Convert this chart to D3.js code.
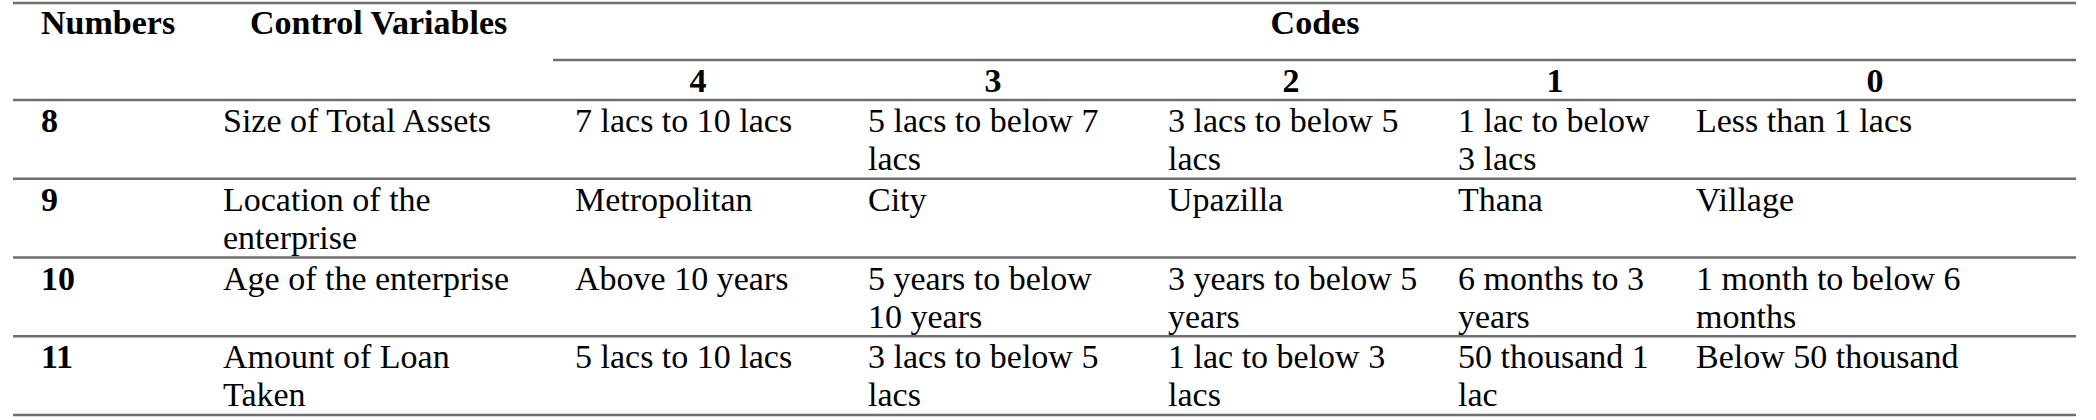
<!DOCTYPE html>
<html>
<head>
<meta charset="utf-8">
<script src="https://cdn.jsdelivr.net/npm/d3@7"></script>
<style>
  body { margin: 0; background: #fff; }
  text { font-family: "Liberation Serif", "Times New Roman", serif; font-size: 34px; fill: #000; }
  .b { font-weight: bold; }
</style>
</head>
<body>
<svg id="chart" width="2096" height="420"></svg>
<script>
// table content
var numbers = ["8", "9", "10", "11"];
var variables = [["Size of Total Assets"], ["Location of the", "enterprise"], ["Age of the enterprise"], ["Amount of Loan", "Taken"]];
var codes = ["4", "3", "2", "1", "0"];
var code4 = [["7 lacs to 10 lacs"], ["Metropolitan"], ["Above 10 years"], ["5 lacs to 10 lacs"]];
var code3 = [["5 lacs to below 7", "lacs"], ["City"], ["5 years to below", "10 years"], ["3 lacs to below 5", "lacs"]];
var code2 = [["3 lacs to below 5", "lacs"], ["Upazilla"], ["3 years to below 5", "years"], ["1 lac to below 3", "lacs"]];
var code1 = [["1 lac to below", "3 lacs"], ["Thana"], ["6 months to 3", "years"], ["50 thousand 1", "lac"]];
var code0 = [["Less than 1 lacs"], ["Village"], ["1 month to below 6", "months"], ["Below 50 thousand"]];

var svg = d3.select("#chart");
var left = 13, right = 2076;

// column left edges (text start) and header centres
var colX = [41, 223, 575, 868, 1168, 1458, 1696];
var codeCenter = d3.scaleOrdinal().domain(codes).range([698, 993, 1291, 1555, 1875]);

var y = d3.scaleBand().domain(numbers).range([100, 415]);

var line = function(x1, x2, yy) {
  svg.append("line").attr("x1", x1).attr("x2", x2).attr("y1", yy).attr("y2", yy)
    .attr("stroke", "#6e6e6e").attr("stroke-width", 2.5);
};

// rules
line(left, right, 3);
line(553, right, 60);
line(left, right, 100);
numbers.forEach(function(n) {
  line(left, right, y(n) + y.bandwidth());
});

// header
svg.append("text").attr("class", "b").attr("x", colX[0]).attr("y", 34).text("Numbers");
svg.append("text").attr("class", "b").attr("x", 250).attr("y", 34).text("Control Variables");
svg.append("text").attr("class", "b").attr("x", 1315).attr("y", 34).attr("text-anchor", "middle").text("Codes");
svg.selectAll(".code").data(codes).enter().append("text")
  .attr("class", "b code").attr("x", function(d) { return codeCenter(d); })
  .attr("y", 92).attr("text-anchor", "middle").text(function(d) { return d; });

// body
var columns = [numbers.map(function(n) { return [n]; }), variables, code4, code3, code2, code1, code0];
columns.forEach(function(col, c) {
  var g = svg.append("g");
  var cell = g.selectAll("text").data(col).enter().append("text")
    .attr("class", c == 0 ? "b" : null)
    .attr("x", colX[c])
    .attr("y", function(d, i) { return y(numbers[i]) + 32; });
  cell.selectAll("tspan").data(function(d) { return d; }).enter().append("tspan")
    .attr("x", colX[c])
    .attr("dy", function(d, i) { return i == 0 ? 0 : 38; })
    .text(function(d) { return d; });
});
</script>
</body>
</html>
